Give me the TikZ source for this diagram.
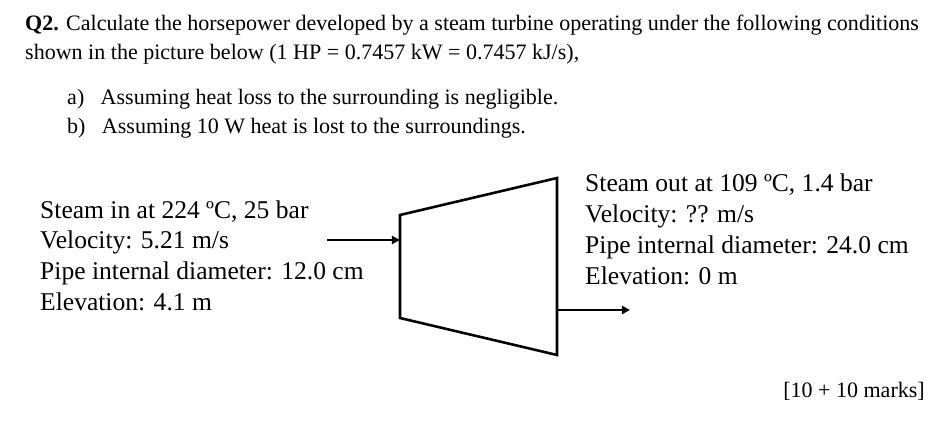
\documentclass[tikz,border=0pt]{standalone}
\usepackage{fontspec}
\setmainfont{Liberation Serif}
\usetikzlibrary{arrows.meta}
\begin{document}
\begin{tikzpicture}[x=0.03cm,y=-0.03cm,
  txt/.style={anchor=base west,inner sep=0pt,font=\fontsize{18.8}{22}\selectfont},
  big/.style={anchor=base west,inner sep=0pt,font=\fontsize{21.8}{25}\selectfont},
  flow/.style={line width=2.2pt,-{Triangle[length=7pt,width=7pt]}},
  body/.style={line width=2.2pt,line join=miter}]
\useasboundingbox (0,0) rectangle (951,430);
\node[txt] (q1) at (25,31) {\textbf{Q2.} Calculate the horsepower developed by a steam turbine operating under the following conditions};
\node[txt] (q2) at (25,60) {shown in the picture below (1 HP = 0.7457 kW = 0.7457 kJ/s),};
\node[txt] (qa) at (67,105) {a)\hspace{14pt}Assuming heat loss to the surrounding is negligible.};
\node[txt] (qb) at (67,134) {b)\hspace{14pt}Assuming 10 W heat is lost to the surroundings.};
\node[big] (l1) at (40,219) {Steam in at 224 ºC, 25 bar};
\node[big] (l2) at (40,249) {Velocity: 5.21 m/s};
\node[big] (l3) at (40,280) {Pipe internal diameter: 12.0 cm};
\node[big] (l4) at (40,311) {Elevation: 4.1 m};
\node[big] (r1) at (585,192) {Steam out at 109 ºC, 1.4 bar};
\node[big] (r2) at (585,223) {Velocity: ?? m/s};
\node[big] (r3) at (585,254) {Pipe internal diameter: 24.0 cm};
\node[big] (r4) at (585,285) {Elevation: 0 m};
\node[txt,anchor=base east] (mk) at (925,397) {[10 + 10 marks]};
\coordinate (t1) at (400,215);
\coordinate (t2) at (557,178);
\coordinate (t3) at (557,355);
\coordinate (t4) at (400,318);
\draw[body] (t1) -- (t2) -- (t3) -- (t4) -- cycle;
\coordinate (inS) at (327,240);
\coordinate (inE) at (400,240);
\coordinate (outS) at (557,310);
\coordinate (outE) at (630,310);
\draw[flow] (inS) -- (inE);
\draw[flow] (outS) -- (outE);
\end{tikzpicture}
\end{document}
